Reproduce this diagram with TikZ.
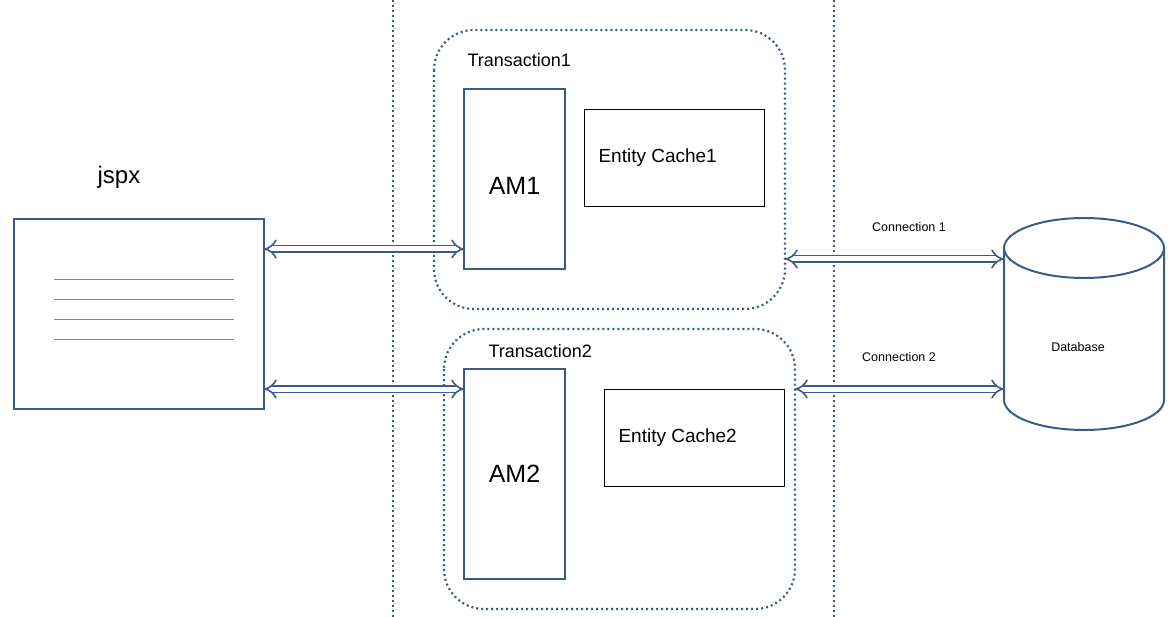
\documentclass[tikz,border=0pt]{standalone}
\usepackage{fontspec}
\setmainfont{Liberation Sans}
\usetikzlibrary{arrows.meta}
\definecolor{bl}{HTML}{3B5A8A}
\begin{document}
\begin{tikzpicture}[x=1pt,y=-1pt,
  box/.style={draw=bl,line width=2pt},
  thin/.style={draw=black,line width=0.8pt},
  dots/.style={draw=bl,line width=2.2pt,dash pattern=on 2pt off 3pt},
  trans/.style={dots,rounded corners=40pt},
  dbl/.style={draw=bl,double=white,double distance=5pt,line width=1.6pt,{Implies[length=8pt]}-{Implies[length=8pt]}},
  lbl/.style={font=\fontsize{12.5}{14}\selectfont}]
\useasboundingbox (0,0) rectangle (1174,617);
\draw[dots] (393,0) -- (393,617);
\draw[dots] (834,0) -- (834,617);
\draw[trans] (434,30) rectangle (785,309);
\draw[trans] (444,329) rectangle (795,609);
\node[anchor=west,font=\fontsize{18}{20}\selectfont] (t1) at (464,60) {Transaction1};
\node[anchor=west,font=\fontsize{18}{20}\selectfont] (t2) at (485,351) {Transaction2};
\node[box,minimum width=101pt,minimum height=180pt,inner sep=0] (am1) at (514.5,179) {};
\node[font=\fontsize{25}{28}\selectfont] at (514.5,186) {AM1};
\node[box,minimum width=101pt,minimum height=210pt,inner sep=0] (am2) at (514.5,474) {};
\node[font=\fontsize{25}{28}\selectfont] at (514.5,474) {AM2};
\node[thin,draw,minimum width=180pt,minimum height=97pt,inner sep=0] (ec1) at (674,157.5) {};
\node[anchor=west,font=\fontsize{19}{22}\selectfont] at (595,158) {Entity Cache1};
\node[thin,draw,minimum width=180pt,minimum height=97pt,inner sep=0] (ec2) at (694,437.5) {};
\node[anchor=west,font=\fontsize{19}{22}\selectfont] at (615,438) {Entity Cache2};
\node[box,minimum width=250pt,minimum height=190pt,inner sep=0] (jspx) at (139,314) {};
\foreach \yy in {279,299,319,339} \draw[gray,line width=0.8pt] (54,\yy) -- (234,\yy);
\node[font=\fontsize{24}{28}\selectfont] (jt) at (119,177) {jspx};
\draw[box] (1004,248) -- (1004,400) arc[start angle=180,end angle=0,x radius=80,y radius=30] -- (1164,248);
\draw[box] (1084,248) ellipse[x radius=80,y radius=30];
\node[lbl] (dbt) at (1078,347) {Database};
\coordinate (j1) at (264,249); \coordinate (a1) at (464,249);
\coordinate (j2) at (264,389); \coordinate (a2) at (464,389);
\coordinate (c1a) at (785,259); \coordinate (c1b) at (1004,259);
\coordinate (c2a) at (795,389); \coordinate (c2b) at (1004,389);
\draw[dbl] (j1) -- (a1);
\draw[dbl] (j2) -- (a2);
\draw[dbl] (c1a) -- (c1b);
\draw[dbl] (c2a) -- (c2b);
\node[lbl] (cl1) at (909,227) {Connection 1};
\node[lbl] (cl2) at (899,357) {Connection 2};
\end{tikzpicture}
\end{document}
